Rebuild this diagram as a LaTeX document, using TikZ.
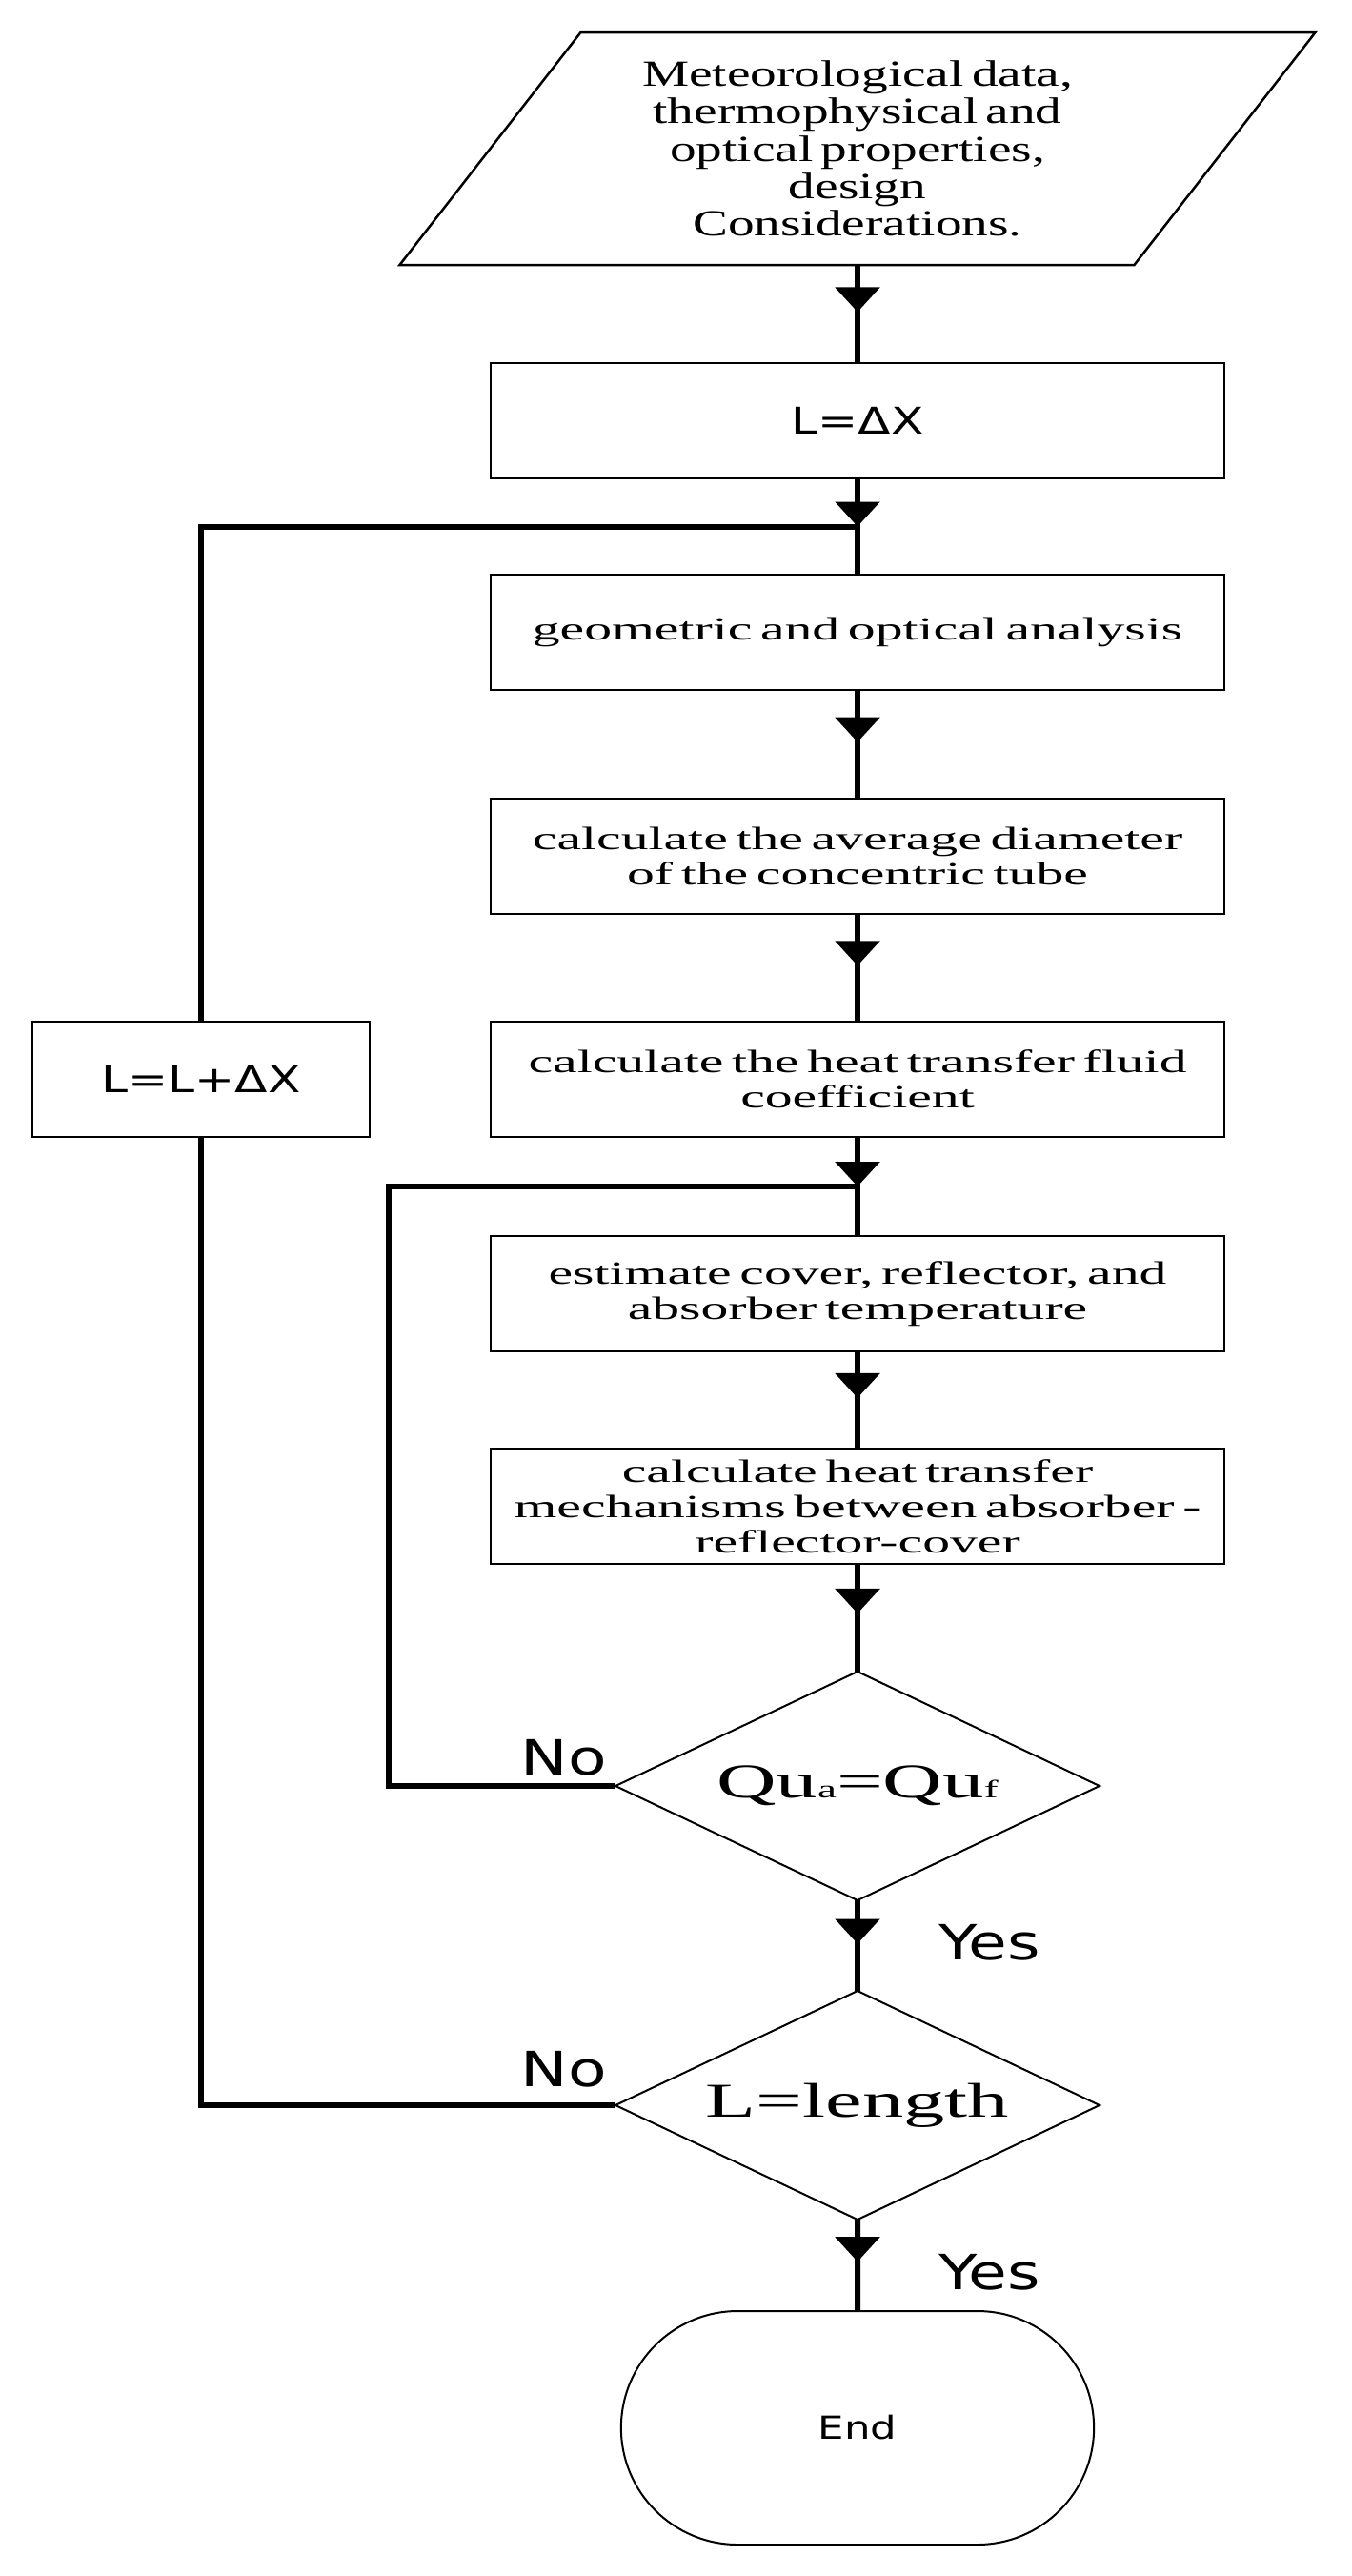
\documentclass[tikz,border=0pt]{standalone}
\usepackage{fontspec}
\setmainfont{Liberation Serif}[FakeStretch=1.7, WordSpace=0.6]
\newfontfamily\inputfont{Liberation Serif}[FakeStretch=1.43, WordSpace=0.6]
\newfontfamily\labelfont{DejaVu Sans}[FakeStretch=1.3]
\usetikzlibrary{arrows.meta, shapes, positioning, decorations.markings}

\begin{document}
\begin{tikzpicture}[font=\fontsize{19.3}{21}\selectfont, node distance=2cm, line width=0.05cm,
	every node/.style={outer sep=0pt}]

	\tikzset{node box/.style={rectangle, draw, line width=0.05cm,
			minimum width=15.4cm, minimum height=2.42cm,
			align=center, inner sep=0pt}}
	\tikzset{node dec/.style={diamond, draw, line width=0.04cm, aspect=2.1,
			minimum width=10.16cm, minimum height=4.8cm, inner sep=0pt,
			font=\fontsize{29}{30}\selectfont}}
	\tikzset{node lbl/.style={inner sep=0pt,
			font=\labelfont\fontsize{29}{30}\selectfont}}
	\tikzset{flow line/.style={line width=0.12cm, postaction={decorate},
			decoration={markings, mark=at position #1 with {\arrow{Triangle[width=0.92cm,length=0.52cm]}}}},
		flow line/.default=0.48}
	\tikzset{back line/.style={line width=0.12cm}}

	\useasboundingbox (0,0) rectangle (28.38,-54.06);

	\node[minimum width=15.42cm, minimum height=4.88cm, align=center, inner sep=0pt,
		font=\inputfont\fontsize{22}{22.4}\selectfont] (In) at (18,-3.12)
		{Meteorological data,\\thermophysical and\\optical properties,\\design\\Considerations.};
	\draw ([xshift=1.9cm]In.north west) -- ([xshift=1.9cm]In.north east)
		-- ([xshift=-1.9cm]In.south east) -- ([xshift=-1.9cm]In.south west) -- cycle;

	\node[node box, below=2.06cm of In, font=\labelfont\fontsize{22}{24}\selectfont] (L0) {L=ΔX};
	\node[node box, below=2.02cm of L0] (G) {geometric and optical analysis};
	\node[node box, below=2.28cm of G] (D) {calculate the average diameter\\of the concentric tube};
	\node[node box, below=2.26cm of D] (H) {calculate the heat transfer fluid\\coefficient};
	\node[node box, below=2.08cm of H] (T) {estimate cover, reflector, and\\absorber temperature};
	\node[node box, below=2.04cm of T] (M) {calculate heat transfer\\mechanisms between absorber -\\reflector-cover};
	\node[node dec, below=2.26cm of M] (Q) {Qu{\fontsize{15}{15}\selectfont a}=Qu{\fontsize{15}{15}\selectfont f}};
	\node[node dec, below=1.9cm of Q] (Len) {L=length};
	\node[rounded rectangle, draw, line width=0.04cm, minimum width=10.16cm, minimum height=4.9cm,
		font=\labelfont\fontsize{19}{20}\selectfont, below=1.92cm of Len] (E) {End};
	\node[node box, minimum width=7.08cm, left=2.54cm of H,
		font=\labelfont\fontsize{22}{24}\selectfont] (Inc) {L=L+ΔX};

	\coordinate[below=1.01cm of L0] (J1);
	\coordinate[below=1.04cm of H] (J2);
	\coordinate[left=4.76cm of Q.west] (K1);

	\draw[flow line] (In.south) -- (L0);
	\draw[flow line=0.5] (L0) -- (G);
	\draw[flow line] (G) -- (D);
	\draw[flow line] (D) -- (H);
	\draw[flow line=0.5] (H) -- (T);
	\draw[flow line] (T) -- (M);
	\draw[flow line=0.46] (M) -- (Q);
	\draw[flow line] (Q) -- (Len);
	\draw[flow line=0.46] (Len) -- (E);

	% loops back
	\draw[back line] (Q.west) -- (K1) |- (J2);
	\draw[back line] (Len.west) -| (Inc.south);
	\draw[back line] (Inc.north) |- (J1);

	\node[node lbl, above left=0.22cm and 0.18cm of Q.west] (No1) {No};
	\node[node lbl, below right=0.5cm and 1.7cm of Q.south] (Yes1) {Yes};
	\node[node lbl, above left=0.38cm and 0.18cm of Len.west] (No2) {No};
	\node[node lbl, below right=0.72cm and 1.7cm of Len.south] (Yes2) {Yes};
\end{tikzpicture}
\end{document}
